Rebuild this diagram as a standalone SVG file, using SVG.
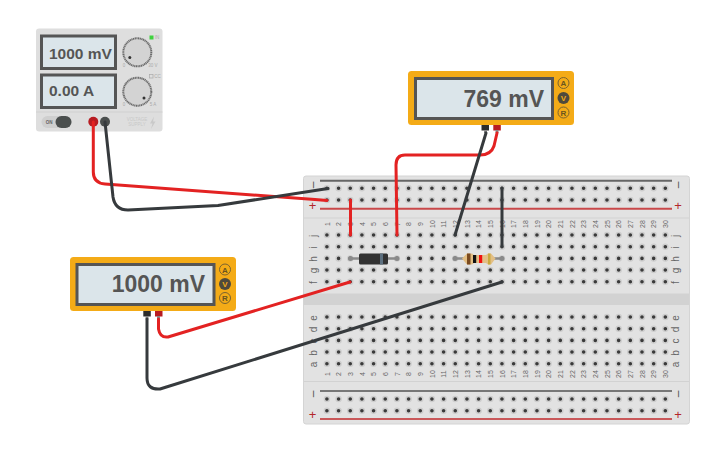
<svg xmlns="http://www.w3.org/2000/svg" width="725" height="453" viewBox="0 0 725 453">
<style>
text{font-family:"Liberation Sans",Arial,sans-serif}
.halo{stroke:#cdcdcd;stroke-width:6.5;stroke-linecap:round;stroke-dasharray:0 11.67;fill:none}
.hole{stroke:#3a3a3a;stroke-width:3.6;stroke-linecap:round;stroke-dasharray:0 11.67;fill:none}
.num{font-size:7px;fill:#666;text-anchor:middle}
.let{font-size:10px;fill:#666;text-anchor:middle}
.minus{font-size:12px;fill:#555;text-anchor:middle}
.plus{font-size:13px;fill:#b3272a;text-anchor:middle}
.red{fill:none;stroke:#e32222;stroke-width:3;stroke-linecap:round;stroke-linejoin:round}
.blk{fill:none;stroke:#363a3d;stroke-width:3;stroke-linecap:round;stroke-linejoin:round}
.mbody{fill:#f4ab17}
.lcd{fill:#dbe5ea;stroke:#555;stroke-width:3}
.read{font-weight:700;fill:#555;text-anchor:end;font-size:23px}
.sel{fill:none;stroke:#7a6330;stroke-width:1}
.seld{fill:#4f4a3c}
.selt{font-size:8px;fill:#6a5520;text-anchor:middle;font-weight:700}
.knob{fill:#d3d3d3;stroke:#6a6a6a;stroke-width:2;stroke-dasharray:1.2 .5}
.tiny{font-size:4.5px;fill:#aaa;text-anchor:middle}
</style>
<defs>
<g id="row"><line class="halo" x1="326.9" x2="665.5" y1="0" y2="0"/><line class="hole" x1="326.9" x2="665.5" y1="0" y2="0"/></g>
</defs>
<rect width="725" height="453" fill="#fff"/>

<g id="breadboard">
<rect x="303.500" y="176" width="386" height="248" rx="2.500" fill="#e2e2e2" stroke="#d4d4d4"/>
<rect x="304" y="293.500" width="385" height="11.500" fill="#d2d2d2"/>
<line x1="304" x2="689" y1="218" y2="218" stroke="#d2d2d2"/>
<line x1="304" x2="689" y1="381.500" y2="381.500" stroke="#d2d2d2"/>
<line x1="320" x2="672" y1="180.800" y2="180.800" stroke="#666" stroke-width="2"/>
<line x1="320" x2="672" y1="208.700" y2="208.700" stroke="#c9484a" stroke-width="2"/>
<line x1="320" x2="672" y1="391" y2="391" stroke="#777" stroke-width="2"/>
<line x1="320" x2="672" y1="419" y2="419" stroke="#c9585a" stroke-width="2"/>
<use href="#row" y="188.300"/><use href="#row" y="200"/>
<use href="#row" y="235"/><use href="#row" y="246.700"/><use href="#row" y="258.400"/><use href="#row" y="270"/><use href="#row" y="281.700"/>
<use href="#row" y="317"/><use href="#row" y="328.700"/><use href="#row" y="340.400"/><use href="#row" y="352"/><use href="#row" y="363.700"/>
<use href="#row" y="399"/><use href="#row" y="410.700"/>
<text class="minus" transform="translate(316.500 185) rotate(-90)">–</text><text class="plus" x="312.500" y="210">+</text>
<text class="minus" transform="translate(682 185) rotate(-90)">–</text><text class="plus" x="678" y="210">+</text>
<text class="minus" transform="translate(316.500 394) rotate(-90)">–</text><text class="plus" x="312.500" y="419">+</text>
<text class="minus" transform="translate(682 394) rotate(-90)">–</text><text class="plus" x="678" y="419">+</text>
<g id="nums-top">
<text class="num" transform="translate(329.500 224) rotate(-90)">1</text><text class="num" transform="translate(341.200 224) rotate(-90)">2</text><text class="num" transform="translate(352.800 224) rotate(-90)">3</text><text class="num" transform="translate(364.500 224) rotate(-90)">4</text><text class="num" transform="translate(376.200 224) rotate(-90)">5</text><text class="num" transform="translate(387.800 224) rotate(-90)">6</text><text class="num" transform="translate(399.500 224) rotate(-90)">7</text><text class="num" transform="translate(411.200 224) rotate(-90)">8</text><text class="num" transform="translate(422.900 224) rotate(-90)">9</text><text class="num" transform="translate(434.500 224) rotate(-90)">10</text><text class="num" transform="translate(446.200 224) rotate(-90)">11</text><text class="num" transform="translate(457.900 224) rotate(-90)">12</text><text class="num" transform="translate(469.500 224) rotate(-90)">13</text><text class="num" transform="translate(481.200 224) rotate(-90)">14</text><text class="num" transform="translate(492.900 224) rotate(-90)">15</text><text class="num" transform="translate(504.600 224) rotate(-90)">16</text><text class="num" transform="translate(516.200 224) rotate(-90)">17</text><text class="num" transform="translate(527.900 224) rotate(-90)">18</text><text class="num" transform="translate(539.600 224) rotate(-90)">19</text><text class="num" transform="translate(551.200 224) rotate(-90)">20</text><text class="num" transform="translate(562.900 224) rotate(-90)">21</text><text class="num" transform="translate(574.600 224) rotate(-90)">22</text><text class="num" transform="translate(586.300 224) rotate(-90)">23</text><text class="num" transform="translate(597.900 224) rotate(-90)">24</text><text class="num" transform="translate(609.600 224) rotate(-90)">25</text><text class="num" transform="translate(621.300 224) rotate(-90)">26</text><text class="num" transform="translate(632.900 224) rotate(-90)">27</text><text class="num" transform="translate(644.600 224) rotate(-90)">28</text><text class="num" transform="translate(656.300 224) rotate(-90)">29</text><text class="num" transform="translate(668 224) rotate(-90)">30</text>
</g>
<g id="nums-bottom">
<text class="num" transform="translate(329.500 374) rotate(-90)">1</text><text class="num" transform="translate(341.200 374) rotate(-90)">2</text><text class="num" transform="translate(352.800 374) rotate(-90)">3</text><text class="num" transform="translate(364.500 374) rotate(-90)">4</text><text class="num" transform="translate(376.200 374) rotate(-90)">5</text><text class="num" transform="translate(387.800 374) rotate(-90)">6</text><text class="num" transform="translate(399.500 374) rotate(-90)">7</text><text class="num" transform="translate(411.200 374) rotate(-90)">8</text><text class="num" transform="translate(422.900 374) rotate(-90)">9</text><text class="num" transform="translate(434.500 374) rotate(-90)">10</text><text class="num" transform="translate(446.200 374) rotate(-90)">11</text><text class="num" transform="translate(457.900 374) rotate(-90)">12</text><text class="num" transform="translate(469.500 374) rotate(-90)">13</text><text class="num" transform="translate(481.200 374) rotate(-90)">14</text><text class="num" transform="translate(492.900 374) rotate(-90)">15</text><text class="num" transform="translate(504.600 374) rotate(-90)">16</text><text class="num" transform="translate(516.200 374) rotate(-90)">17</text><text class="num" transform="translate(527.900 374) rotate(-90)">18</text><text class="num" transform="translate(539.600 374) rotate(-90)">19</text><text class="num" transform="translate(551.200 374) rotate(-90)">20</text><text class="num" transform="translate(562.900 374) rotate(-90)">21</text><text class="num" transform="translate(574.600 374) rotate(-90)">22</text><text class="num" transform="translate(586.300 374) rotate(-90)">23</text><text class="num" transform="translate(597.900 374) rotate(-90)">24</text><text class="num" transform="translate(609.600 374) rotate(-90)">25</text><text class="num" transform="translate(621.300 374) rotate(-90)">26</text><text class="num" transform="translate(632.900 374) rotate(-90)">27</text><text class="num" transform="translate(644.600 374) rotate(-90)">28</text><text class="num" transform="translate(656.300 374) rotate(-90)">29</text><text class="num" transform="translate(668 374) rotate(-90)">30</text>
</g>
<g id="letters">
<text class="let" transform="translate(317 236) rotate(-90)">j</text><text class="let" transform="translate(317 247.500) rotate(-90)">i</text><text class="let" transform="translate(317 259) rotate(-90)">h</text><text class="let" transform="translate(317 270.500) rotate(-90)">g</text><text class="let" transform="translate(317 282.500) rotate(-90)">f</text>
<text class="let" transform="translate(679 236) rotate(-90)">j</text><text class="let" transform="translate(679 247.500) rotate(-90)">i</text><text class="let" transform="translate(679 259) rotate(-90)">h</text><text class="let" transform="translate(679 270.500) rotate(-90)">g</text><text class="let" transform="translate(679 282.500) rotate(-90)">f</text>
<text class="let" transform="translate(317 318) rotate(-90)">e</text><text class="let" transform="translate(317 329.500) rotate(-90)">d</text><text class="let" transform="translate(317 341) rotate(-90)">c</text><text class="let" transform="translate(317 353) rotate(-90)">b</text><text class="let" transform="translate(317 364.500) rotate(-90)">a</text>
<text class="let" transform="translate(679 318) rotate(-90)">e</text><text class="let" transform="translate(679 329.500) rotate(-90)">d</text><text class="let" transform="translate(679 341) rotate(-90)">c</text><text class="let" transform="translate(679 353) rotate(-90)">b</text><text class="let" transform="translate(679 364.500) rotate(-90)">a</text>
</g>
</g>

<g id="diode">
<line x1="350" x2="397" y1="258.500" y2="258.500" stroke="#8a8a8a" stroke-width="2.500"/>
<circle cx="350.500" cy="258.500" r="2.500" fill="#8a8a8a"/><circle cx="397" cy="258.500" r="2.500" fill="#8a8a8a"/>
<rect x="359" y="253.500" width="29" height="11" rx="1.500" fill="#333"/>
<rect x="380" y="253.500" width="3" height="11" fill="#5d7080"/>
</g>

<g id="resistor">
<line x1="455" x2="502" y1="258.500" y2="258.500" stroke="#8a8a8a" stroke-width="2.500"/>
<circle cx="455" cy="258.500" r="2.500" fill="#8a8a8a"/><circle cx="502" cy="258.500" r="2.500" fill="#8a8a8a"/>
<path d="M462 258.500 L467 253.500 H472 L474 255 H486 L488 253.500 H491 L495.500 258.500 L491 264.500 H488 L486 263 H474 L472 264.500 H467 Z" fill="#e3bf85"/>
<rect x="467" y="253.500" width="3.500" height="11" fill="#7a4a20"/>
<rect x="473" y="255" width="3.200" height="8" fill="#111"/>
<rect x="479" y="255" width="3.200" height="8" fill="#f01010"/>
<rect x="488" y="253.500" width="2.500" height="11" fill="#c9a93e"/>
</g>

<g id="power-supply">
<rect x="36" y="28.500" width="126.500" height="103" rx="3" fill="#dedede"/>
<line x1="36" x2="162.500" y1="112" y2="112" stroke="#d0d0d0"/>
<rect x="41.500" y="36" width="74" height="32.500" class="lcd"/>
<rect x="41.500" y="75" width="74" height="32.500" class="lcd"/>
<text x="49" y="58.500" font-size="15.500" font-weight="700" fill="#555">1000 mV</text>
<text x="49" y="96" font-size="15.500" font-weight="700" fill="#555">0.00 A</text>
<circle cx="137.300" cy="52.300" r="14" class="knob"/>
<circle cx="129.800" cy="57.500" r="1.500" fill="#333"/>
<circle cx="137.300" cy="91.700" r="14" class="knob"/>
<circle cx="144" cy="98" r="1.500" fill="#333"/>
<rect x="149.500" y="35.500" width="4" height="4" fill="#3fd13f"/>
<text class="tiny" x="157" y="39">IN</text>
<rect x="149.500" y="74.500" width="3.500" height="3.500" fill="none" stroke="#aaa" stroke-width=".7"/>
<text class="tiny" x="157.500" y="78">CC</text>
<text class="tiny" x="124" y="66.500">0</text><text class="tiny" x="153" y="66.500">30 V</text>
<text class="tiny" x="124" y="106">0</text><text class="tiny" x="153" y="106">5 A</text>
<rect x="41.500" y="116" width="30" height="12" rx="6" fill="#cfcfcf"/>
<text x="49" y="123.800" font-size="4.500" font-weight="700" fill="#666" text-anchor="middle">ON</text>
<rect x="55.500" y="116" width="16" height="12" rx="6" fill="#4b4f4e"/>
<text class="tiny" x="137" y="120.500" style="fill:#c8c8c8">VOLTAGE</text><text class="tiny" x="137" y="125.500" style="fill:#c8c8c8">SUPPLY</text>
<path d="M154 116.500 L150 123.500 H152.500 L151 129 L155.500 121.500 H153 Z" fill="#c9c9c9"/>
<circle cx="93.300" cy="121.700" r="5" fill="#b81c22"/>
<circle cx="105" cy="121.700" r="5" fill="#4b4f4e"/>
</g>

<g id="meter-top">
<rect x="408" y="71" width="166" height="54" rx="3.500" class="mbody"/>
<rect x="415.500" y="78.500" width="137" height="40" class="lcd"/>
<text class="read" x="544" y="106.500">769 mV</text>
<circle class="sel" cx="563.500" cy="83" r="5.500"/><text class="selt" x="563.500" y="86">A</text>
<circle class="seld" cx="563.500" cy="98" r="6"/><text class="selt" x="563.500" y="101" style="fill:#f4ab17">V</text>
<circle class="sel" cx="563.500" cy="112.500" r="5.500"/><text class="selt" x="563.500" y="115.500">R</text>
<rect x="481.500" y="125" width="7.500" height="5.500" fill="#2c2c2c"/><rect x="484" y="130" width="3" height="3" fill="#888"/>
<rect x="493.300" y="125" width="7.500" height="5.500" fill="#b81c22"/><rect x="495.500" y="130" width="3" height="3" fill="#888"/>
</g>

<g id="meter-left">
<rect x="70" y="257" width="166" height="54" rx="3.500" class="mbody"/>
<rect x="77" y="264.500" width="137" height="40" class="lcd"/>
<text class="read" x="205" y="292">1000 mV</text>
<circle class="sel" cx="225" cy="269.500" r="5.500"/><text class="selt" x="225" y="272.500">A</text>
<circle class="seld" cx="225" cy="284" r="6"/><text class="selt" x="225" y="287" style="fill:#f4ab17">V</text>
<circle class="sel" cx="225" cy="298" r="5.500"/><text class="selt" x="225" y="301">R</text>
<rect x="143.300" y="311" width="7.500" height="5.500" fill="#2c2c2c"/><rect x="145.500" y="316" width="3" height="3.500" fill="#888"/>
<rect x="155" y="311" width="7.500" height="5.500" fill="#b81c22"/><rect x="157" y="316" width="3" height="3.500" fill="#888"/>
</g>

<g id="connectors">
<path class="red" d="M93.300 122 V172 Q93.300 183 105 184 L315 199.500 L327 200.500"/>
<path class="blk" d="M105 122 L113 197 Q115 210 128 210 L218 205.500 L328 188.500"/>
<path class="red" d="M350.500 200 V235"/>
<path class="red" d="M497 133 L494 146 Q491 155 480 155 H405 Q396 155 396 165 L397 235"/>
<path class="blk" d="M486 133 L455 235"/>
<path class="blk" d="M502 188 V246"/>
<path class="red" d="M158.500 319 L158.500 329 Q160 338 168 337 L350 282"/>
<path class="blk" d="M147 319 V378 Q147 390 160 389 L502 282"/>
</g>
</svg>
